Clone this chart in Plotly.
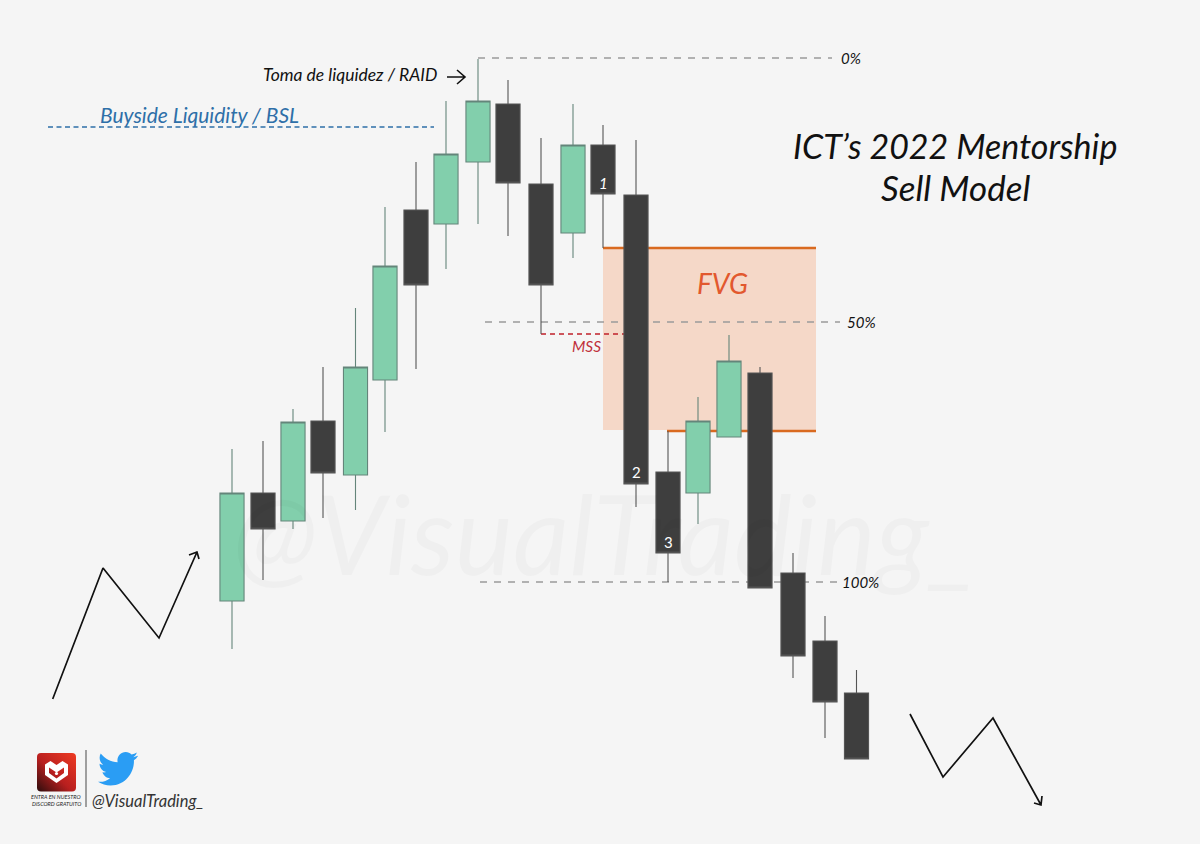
import base64
import plotly.graph_objects as go

# ---- chart data (price scale: 0 at the bottom, 844 at the top) ----
candle_x = [232, 263, 293, 323, 355.5, 385, 416, 446, 478, 508, 541, 573, 603, 636, 668, 698, 729, 760, 793, 825, 856.5]
opens  = [243, 351, 323, 423, 369, 464, 634, 620, 682, 740, 660, 611, 699, 649, 372, 351, 407, 471, 271, 203, 151]
highs  = [395, 403, 435, 477, 536, 637, 682, 743, 785, 764, 706, 740, 719, 704, 413, 447, 509, 477, 291, 228, 174]
lows   = [195, 264, 315, 326, 334, 412, 475, 575, 620, 608, 510, 586, 596, 337, 262, 320, 407, 256, 166, 106, 85]
closes = [351, 315, 422, 371, 477, 578, 559, 690, 743, 661, 559, 699, 650, 360, 291, 423, 483, 256, 188, 142, 85]

swing_up_x = [52.7, 103, 159, 197, 189, 197, 199]
swing_up_y = [145, 276, 206, 292, 289, 292, 285]
swing_dn_x = [910, 943, 993, 1041, 1034, 1041, 1042]
swing_dn_y = [130, 67, 126, 39, 41, 39, 48]
raid_arrow_x = [447, 465, 457, 465, 457]
raid_arrow_y = [767, 767, 774, 767, 760]

fib_labels = ["0%", "50%", "100%"]
fib_levels = [786, 522, 262]
fib_x0 = [478, 485, 480]
fib_x1 = [832, 840, 838]
fib_label_x = [851, 861, 860]

bsl_level = 717
mss_level = 510
fvg_top = 596
fvg_bottom = 414

BG = "#f5f5f5"
H = 844


def Y(p):
    return H - p


fig = go.Figure()
fig.add_trace(go.Candlestick(
    x=candle_x, open=opens, high=highs, low=lows, close=closes,
    increasing=dict(fillcolor="#82cfac", line=dict(color="#64857a", width=1.1)),
    decreasing=dict(fillcolor="#3e3e3e", line=dict(color="#555555", width=1.1)),
    whiskerwidth=0, hoverinfo="skip", showlegend=False,
))
for xs, ys in [(swing_up_x, swing_up_y), (swing_dn_x, swing_dn_y)]:
    fig.add_trace(go.Scatter(x=xs, y=ys, mode="lines", line=dict(color="#111111", width=1.7),
                             hoverinfo="skip", showlegend=False))
fig.add_trace(go.Scatter(x=raid_arrow_x, y=raid_arrow_y, mode="lines", line=dict(color="#111111", width=1.6),
                         hoverinfo="skip", showlegend=False))

shapes = [
    dict(type="rect", x0=603, x1=816, y0=fvg_bottom, y1=fvg_top, fillcolor="#f5d8c8", line_width=0, layer="below"),
    dict(type="line", x0=603, x1=816, y0=fvg_top, y1=fvg_top, line=dict(color="#d96a20", width=2.4), layer="below"),
    dict(type="line", x0=667, x1=816, y0=fvg_bottom - 1, y1=fvg_bottom - 1, line=dict(color="#d96a20", width=2.4), layer="below"),
    dict(type="line", x0=48, x1=434, y0=bsl_level, y1=bsl_level, line=dict(color="#2e6fa8", width=1.5, dash="5px,3.5px"), layer="below"),
    dict(type="line", x0=541, x1=624, y0=mss_level, y1=mss_level, line=dict(color="#c0202a", width=1.6, dash="5px,4px"), layer="below"),
    dict(type="line", x0=86, x1=86, y0=Y(750), y1=Y(807), line=dict(color="#666666", width=1.2), layer="below"),
]
for lvl, a, b in zip(fib_levels, fib_x0, fib_x1):
    shapes.append(dict(type="line", x0=a, x1=b, y0=lvl, y1=lvl,
                       line=dict(color="#9a9a9a", width=1.3, dash="7px,7px"), layer="below"))

FONT = "Lato"


def note(x, y_px, text, size, color="#111111", italic=True, anchor="center"):
    s = f"<i>{text}</i>" if italic else text
    return dict(x=x, y=Y(y_px), text=s, showarrow=False, xanchor=anchor, yanchor="middle",
                font=dict(family=FONT, size=size, color=color))


annotations = [
    note(605, 532, "@VisualTrading_", 110, "rgba(0,0,0,0.025)"),
    note(955, 145, "ICT’s 2022 Mentorship", 34),
    note(955, 187, "Sell Model", 35),
    note(350, 74, "Toma de liquidez / RAID", 17.5),
    note(199, 114, "Buyside Liquidity / BSL", 21, "#2e6fa8"),
    note(722, 283, "FVG", 28, "#e2582e"),
    note(586, 346, "MSS", 15.5, "#c0303a"),
    note(603, 183, "1", 15, "#ffffff"),
    note(636, 472, "2", 15, "#ffffff", italic=False),
    note(668, 542, "3", 15, "#ffffff", italic=False),
    note(147.5, 801, "@VisualTrading_", 16.5, "#333333"),
    note(56, 797, "ENTRA EN NUESTRO", 5.5, "#222222"),
    note(56, 804, "DISCORD GRATUITO", 5.5, "#222222"),
]
for lab, lvl, lx in zip(fib_labels, fib_levels, fib_label_x):
    annotations.append(dict(x=lx, y=lvl, text=f"<i>{lab}</i>", showarrow=False, xanchor="center", yanchor="middle",
                            font=dict(family=FONT, size=15, color="#111111")))

BIRD = ("M23.95 4.57C23.07 4.96 22.12 5.23 21.13 5.35C22.14 4.74 22.92 3.78 23.29 2.62"
        "C22.34 3.18 21.29 3.58 20.16 3.81C19.27 2.86 18 2.26 16.58 2.26C13.4 2.26 11.07 5.22 11.78 8.3"
        "C7.69 8.1 4.07 6.13 1.64 3.16C0.35 5.38 0.97 8.29 3.16 9.73C2.36 9.7 1.6 9.48 0.93 9.12"
        "C0.88 11.4 2.51 13.53 4.88 14.01C4.18 14.2 3.42 14.24 2.67 14.1C3.29 16.05 5.11 17.48 7.27 17.52"
        "C5.2 19.14 2.59 19.87 0 19.56C2.18 20.96 4.78 21.77 7.56 21.77C16.61 21.77 21.56 14.27 21.56 7.78"
        "C21.56 7.57 21.56 7.36 21.54 7.15C22.5 6.46 23.33 5.59 23.98 4.6Z")
svg = f'''<svg xmlns="http://www.w3.org/2000/svg" viewBox="30 745 115 50" width="460" height="200">
<defs><linearGradient id="g" x1="1" y1="0" x2="0" y2="1">
<stop offset="0" stop-color="#ee3a22"/><stop offset="0.55" stop-color="#b81f1f"/><stop offset="1" stop-color="#2c0d0d"/></linearGradient></defs>
<rect x="37" y="753" width="39" height="38.5" rx="4" fill="url(#g)"/>
<path fill="#ffffff" d="M45 764.5L50.5 761L56.5 765L62.5 761L68 764.5V775L56.5 783L45 775ZM49 767.5V773L56.5 778.5L64 773V767.5L56.5 772.5Z"/>
<circle cx="56.5" cy="773.5" r="1.6" fill="#ffffff"/>
<path fill="#2a9df4" transform="translate(98,748) scale(1.667,1.72)" d="{BIRD}"/>
</svg>'''
src = "data:image/svg+xml;base64," + base64.b64encode(svg.encode()).decode()

fig.update_layout(
    width=1200, height=844, margin=dict(l=0, r=0, t=0, b=0),
    paper_bgcolor=BG, plot_bgcolor=BG, showlegend=False,
    boxgap=0.183, boxgroupgap=0,
    xaxis=dict(range=[0, 1200], visible=False, rangeslider=dict(visible=False), fixedrange=True),
    yaxis=dict(range=[0, H], visible=False, fixedrange=True),
    shapes=shapes, annotations=annotations,
    images=[dict(source=src, xref="x", yref="y", x=30, y=Y(745), sizex=115, sizey=50,
                 xanchor="left", yanchor="top", sizing="stretch", layer="above")],
)

fig.write_html("out.html", config=dict(displayModeBar=False),
               post_script="document.body.style.margin='0';document.body.style.background='#f5f5f5';document.documentElement.style.overflow='hidden';")
